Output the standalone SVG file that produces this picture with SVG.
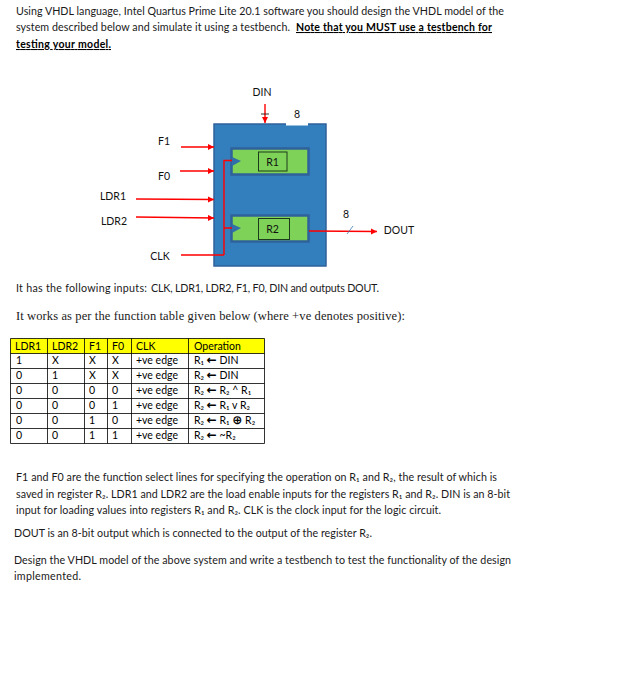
<svg xmlns="http://www.w3.org/2000/svg" width="619" height="696" viewBox="0 0 619 696">
<style>
text{font-family:Lato,"Liberation Sans","DejaVu Sans",sans-serif;fill:#1a1a1a;font-size:10.7px}
.b{font-weight:700;fill:#000;font-size:10.5px}
.s{font-family:"Liberation Serif",serif;font-size:12.5px}
.t{font-size:10.500px;fill:#000}
.n{font-size:10.500px;fill:#111}
.ar{font-family:"DejaVu Sans",sans-serif;font-size:12px;font-weight:700}
.reg{fill:#7ed257;stroke:#2f629a;stroke-width:2.5}
.inner{fill:none;stroke:#1c3a1c;stroke-width:1}
.w{fill:none;stroke:#f00;stroke-width:1.4}
.g{fill:none;stroke:#000;stroke-width:.8}
.ck{fill:#2f6ea8}
</style>
<defs>
<marker id="a" markerUnits="userSpaceOnUse" markerWidth="7" markerHeight="7" refX="6" refY="3" orient="auto"><path d="M0 0L6 3L0 6Z" fill="#f00"/></marker>
</defs>
<rect width="619" height="696" fill="#fff"/>
<g id="intro">
<text x="16" y="15" textLength="488">Using VHDL language, Intel Quartus Prime Lite 20.1 software you should design the VHDL model of the</text>
<text x="16" y="31" textLength="274">system described below and simulate it using a testbench.</text>
<text x="296" y="31" class="b" text-decoration="underline" textLength="196">Note that you MUST use a testbench for</text>
<text x="16" y="48" class="b" text-decoration="underline" textLength="95">testing your model.</text>
</g>
<g id="block">
<rect x="214" y="124" width="112" height="142" fill="#337fbd" stroke="#2f629a" stroke-width="1.5"/>
<rect x="286" y="122" width="22" height="3.500" fill="#fff"/>
</g>
<g id="R1">
<rect class="reg" x="231.500" y="148.500" width="77" height="26"/>
<rect class="inner" x="258.500" y="152" width="28.500" height="19"/>
<path class="ck" d="M232 157L241 161L232 166Z"/>
<text class="n" x="272.500" y="166" text-anchor="middle">R1</text>
</g>
<g id="R2">
<rect class="reg" x="231.500" y="215.500" width="77" height="26"/>
<rect class="inner" x="258.500" y="218.500" width="31" height="21"/>
<path class="ck" d="M232 224L241 228L232 233Z"/>
<text class="n" x="272.500" y="233" text-anchor="middle">R2</text>
</g>
<g id="connectors">
<path class="w" d="M265 104V123" marker-end="url(#a)"/>
<path class="g" d="M261 114H269"/>
<path class="w" d="M181 147H214" marker-end="url(#a)"/>
<path class="w" d="M180 171H214" marker-end="url(#a)"/>
<path class="w" d="M136 199L214 199.500" marker-end="url(#a)"/>
<path class="w" d="M136 217L214 218" marker-end="url(#a)"/>
<path class="w" d="M181 255H224M224 255V160.500H232M224 228H232"/>
<path class="w" d="M309 231L377 231.500" marker-end="url(#a)"/>
<path d="M347 234L353 226" stroke="#3a7ab5" fill="none" stroke-width=".8"/>
</g>
<g id="labels">
<text class="n" x="262" y="96" text-anchor="middle">DIN</text>
<text class="n" x="297" y="118" text-anchor="middle">8</text>
<text class="n" x="164" y="145" text-anchor="middle">F1</text>
<text class="n" x="164" y="180" text-anchor="middle">F0</text>
<text class="n" x="113" y="200" text-anchor="middle">LDR1</text>
<text class="n" x="114" y="225" text-anchor="middle">LDR2</text>
<text class="n" x="160" y="260" text-anchor="middle">CLK</text>
<text class="n" x="346" y="218" text-anchor="middle">8</text>
<text class="n" x="399" y="234" text-anchor="middle">DOUT</text>
</g>
<g id="desc">
<text x="16" y="292" textLength="131">It has the following inputs:</text>
<text x="151" y="292" textLength="228">CLK, LDR1, LDR2, F1, F0, DIN and outputs DOUT.</text>
<text class="s" x="16" y="320" textLength="389">It works as per the function table given below (where +ve denotes positive):</text>
</g>
<g id="table">
<rect x="10.500" y="338.500" width="254" height="15" fill="#ffff00"/>
<path class="g" d="M10.500 338.500H264.500M10.500 353.500H264.500M10.500 368.500H264.500M10.500 383.500H264.500M10.500 398.500H264.500M10.500 413.500H264.500M10.500 428.500H264.500M10.500 443.500H264.500M10.500 338.500V443.500M47.500 338.500V443.500M84.500 338.500V443.500M107.500 338.500V443.500M131.500 338.500V443.500M188.500 338.500V443.500M264.500 338.500V443.500"/>
<g>
<text class="t" x="15" y="350">LDR1</text><text class="t" x="52" y="350">LDR2</text><text class="t" x="89" y="350">F1</text><text class="t" x="112" y="350">F0</text><text class="t" x="136" y="350">CLK</text><text class="t" x="194" y="350">Operation</text>
<text class="t" x="16" y="364">1</text><text class="t" x="52" y="364">X</text><text class="t" x="89" y="364">X</text><text class="t" x="112" y="364">X</text><text class="t" x="136" y="364">+ve edge</text><text class="t" x="194" y="364">R₁ <tspan class="ar">←</tspan> DIN</text>
<text class="t" x="16" y="379">0</text><text class="t" x="52" y="379">1</text><text class="t" x="89" y="379">X</text><text class="t" x="112" y="379">X</text><text class="t" x="136" y="379">+ve edge</text><text class="t" x="194" y="379">R₂ <tspan class="ar">←</tspan> DIN</text>
<text class="t" x="16" y="394">0</text><text class="t" x="52" y="394">0</text><text class="t" x="89" y="394">0</text><text class="t" x="112" y="394">0</text><text class="t" x="136" y="394">+ve edge</text><text class="t" x="194" y="394">R₂ <tspan class="ar">←</tspan> R₂ ^ R₁</text>
<text class="t" x="16" y="409">0</text><text class="t" x="52" y="409">0</text><text class="t" x="89" y="409">0</text><text class="t" x="112" y="409">1</text><text class="t" x="136" y="409">+ve edge</text><text class="t" x="194" y="409">R₂ <tspan class="ar">←</tspan> R₁ v R₂</text>
<text class="t" x="16" y="424">0</text><text class="t" x="52" y="424">0</text><text class="t" x="89" y="424">1</text><text class="t" x="112" y="424">0</text><text class="t" x="136" y="424">+ve edge</text><text class="t" x="194" y="424">R₂ <tspan class="ar">←</tspan> R₁ <tspan class="ar" font-weight="400">⊕</tspan> R₂</text>
<text class="t" x="16" y="439">0</text><text class="t" x="52" y="439">0</text><text class="t" x="89" y="439">1</text><text class="t" x="112" y="439">1</text><text class="t" x="136" y="439">+ve edge</text><text class="t" x="194" y="439">R₂ <tspan class="ar">←</tspan> ~R₂</text>
</g>
</g>
<g id="notes">
<text x="16" y="481" textLength="481">F1 and F0 are the function select lines for specifying the operation on R₁ and R₂, the result of which is</text>
<text x="16" y="498" textLength="494">saved in register R₂. LDR1 and LDR2 are the load enable inputs for the registers R₁ and R₂. DIN is an 8-bit</text>
<text x="16" y="514" textLength="425">input for loading values into registers R₁ and R₂. CLK is the clock input for the logic circuit.</text>
<text x="14" y="537" textLength="358">DOUT is an 8-bit output which is connected to the output of the register R₂.</text>
<text x="14" y="564" textLength="497">Design the VHDL model of the above system and write a testbench to test the functionality of the design</text>
<text x="14" y="580" textLength="67">implemented.</text>
</g>
</svg>
